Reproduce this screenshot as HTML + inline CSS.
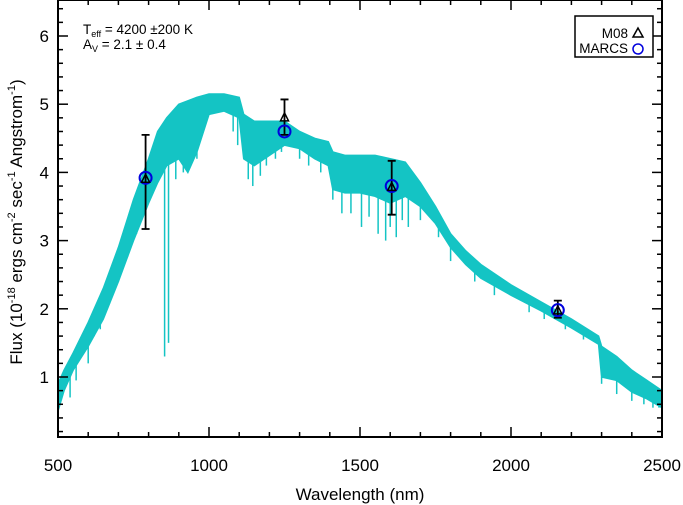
<!DOCTYPE html>
<html><head><meta charset="utf-8">
<style>
html,body{margin:0;padding:0;background:#fff;}
svg{display:block;font-family:"Liberation Sans",Arial,sans-serif;}
</style></head>
<body>
<svg id="chart" width="683" height="505" viewBox="0 0 683 505" xmlns="http://www.w3.org/2000/svg">
  <g id="spec"></g>
  <g id="axes"></g>
  <g id="pts"></g>
  <text x="83" y="34" font-size="13.5">T<tspan font-size="9" dy="3">eff</tspan><tspan dy="-3"> = 4200 ±200 K</tspan></text>
  <text x="83" y="49" font-size="13.5">A<tspan font-size="9" dy="3">V</tspan><tspan dy="-3"> = 2.1 ± 0.4</tspan></text>
  <g>
    <rect x="575" y="16" width="78" height="41" fill="#fff" stroke="#000" stroke-width="1.5"/>
    <text x="628" y="38" font-size="13.5" text-anchor="end">M08</text>
    <polygon points="638,28 633,37 643,37" fill="none" stroke="#000" stroke-width="1.5"/>
    <text x="628" y="53" font-size="13.5" text-anchor="end">MARCS</text>
    <circle cx="638" cy="49" r="5" fill="none" stroke="#0000dd" stroke-width="1.5"/>
  </g>
  <text x="360" y="500" font-size="17" text-anchor="middle">Wavelength (nm)</text>
  <text transform="translate(22,222) rotate(-90)" font-size="17" text-anchor="middle">Flux (10<tspan font-size="11" dy="-7">-18</tspan><tspan dy="7"> ergs cm</tspan><tspan font-size="11" dy="-7">-2</tspan><tspan dy="7"> sec</tspan><tspan font-size="11" dy="-7">-1</tspan><tspan dy="7"> Angstrom</tspan><tspan font-size="11" dy="-7">-1</tspan><tspan dy="7">)</tspan></text>
</svg>
<script>
const specWave  = [500,520,550,600,650,700,750,800,830,860,900,930,960,1000,1050,1100,1115,1150,1200,1250,1300,1350,1395,1410,1450,1500,1550,1600,1650,1700,1750,1800,1850,1900,2000,2100,2200,2290,2300,2350,2400,2450,2500];
const specUpper = [0.9,1.1,1.35,1.8,2.3,2.9,3.6,4.2,4.6,4.8,5.0,5.05,5.1,5.15,5.15,5.1,4.85,4.75,4.75,4.75,4.6,4.5,4.45,4.3,4.25,4.25,4.25,4.2,4.15,3.85,3.5,3.1,2.85,2.65,2.35,2.1,1.85,1.6,1.45,1.3,1.1,0.95,0.8];
const specLower = [0.5,0.8,1.1,1.45,1.85,2.4,3.0,3.55,3.85,4.1,4.2,4.0,4.3,4.85,4.9,4.8,4.2,4.1,4.25,4.4,4.35,4.2,4.1,3.75,3.7,3.7,3.65,3.55,3.65,3.5,3.25,2.9,2.65,2.45,2.2,1.97,1.72,1.48,1.0,0.95,0.78,0.68,0.55];
const spikeWave = [540,560,600,620,640,670,700,730,760,853,866,890,915,940,960,1080,1095,1130,1145,1170,1190,1220,1240,1300,1330,1370,1410,1440,1470,1505,1530,1560,1585,1600,1620,1640,1660,1700,1760,1800,1880,1945,1990,2060,2110,2180,2240,2300,2320,2350,2380,2400,2420,2440,2470,2490];
const spikeFlux = [0.7,0.95,1.2,1.6,1.7,2.2,2.7,2.9,3.1,1.3,1.5,3.9,4.0,4.1,4.2,4.6,4.4,3.9,3.8,3.95,4.1,4.2,4.3,4.2,4.1,4.0,3.6,3.4,3.4,3.2,3.35,3.1,3.0,3.2,3.05,3.3,3.2,3.3,3.05,2.7,2.4,2.2,2.25,1.95,1.85,1.7,1.55,0.9,1.1,0.75,0.9,0.65,0.8,0.6,0.55,0.55];
const obsWave   = [790,1250,1605,2155];
const m08Flux   = [3.9,4.8,3.78,1.97];
const marcsFlux = [3.92,4.6,3.8,1.98];
const errLow    = [3.17,4.55,3.38,1.87];
const errHigh   = [4.55,5.07,4.17,2.12];
const xTicks    = [500,1000,1500,2000,2500];
const yTicks    = [1,2,3,4,5,6];

const X0=58,X1=662,Y0=437,Y1=0;
const xs = w => X0 + (w-500)/2000*(X1-X0);
const ys = v => 377 - (v-1)*68.2;
const NS="http://www.w3.org/2000/svg";
function mk(tag,parent,attrs){const e=document.createElementNS(NS,tag);for(const k in attrs)e.setAttribute(k,attrs[k]);parent.appendChild(e);return e;}

const spec=document.getElementById('spec');
let pts=specWave.map((w,i)=>xs(w)+','+ys(specUpper[i]));
for(let i=specWave.length-1;i>=0;i--)pts.push(xs(specWave[i])+','+ys(specLower[i]));
const band=mk('polygon',spec,{points:pts.join(' '),fill:'#14c4c4',stroke:'#14c4c4','stroke-width':1.5});


function interp(arr,w){for(let i=0;i<specWave.length-1;i++){if(w>=specWave[i]&&w<=specWave[i+1]){const t=(w-specWave[i])/(specWave[i+1]-specWave[i]);return arr[i]+t*(arr[i+1]-arr[i]);}}return arr[arr.length-1];}
spikeWave.forEach((w,i)=>{
  const l=mk('line',spec,{x1:xs(w),x2:xs(w),y1:ys(interp(specLower,w)),y2:ys(spikeFlux[i]),stroke:'#14c4c4','stroke-width':1.5});
  
  
});

const ax=document.getElementById('axes');
mk('rect',ax,{x:X0,y:Y1,width:X1-X0,height:Y0-Y1,fill:'none',stroke:'#000','stroke-width':2});
for(let w=500;w<=2500;w+=100){
  const big=w%500===0,L=big?10:5,x=xs(w);
  mk('line',ax,{x1:x,x2:x,y1:Y0,y2:Y0-L,stroke:'#000','stroke-width':1.5});
  mk('line',ax,{x1:x,x2:x,y1:Y1,y2:Y1+L,stroke:'#000','stroke-width':1.5});
}
for(let k=1;k<=33;k++){
  const v=k*0.2;const y=ys(v);if(y<Y1||y>Y0)continue;
  const big=Math.abs(v-Math.round(v))<1e-6,L=big?10:5;
  mk('line',ax,{x1:X0,x2:X0+L,y1:y,y2:y,stroke:'#000','stroke-width':1.5});
  mk('line',ax,{x1:X1,x2:X1-L,y1:y,y2:y,stroke:'#000','stroke-width':1.5});
}
xTicks.forEach(w=>{
  const t=mk('text',ax,{x:xs(w),y:471,'font-size':17,'text-anchor':'middle'});t.textContent=w;
  
  
});
yTicks.forEach(v=>{
  const t=mk('text',ax,{x:49,y:ys(v)+6,'font-size':17,'text-anchor':'end'});t.textContent=v;
  
  
});

const pg=document.getElementById('pts');
obsWave.forEach((w,i)=>{
  const x=xs(w);
  const e=mk('path',pg,{d:`M${x},${ys(errLow[i])}V${ys(errHigh[i])}M${x-4},${ys(errLow[i])}H${x+4}M${x-4},${ys(errHigh[i])}H${x+4}`,stroke:'#000','stroke-width':1.8,fill:'none'});
  
  
  const c=mk('circle',pg,{cx:x,cy:ys(marcsFlux[i]),r:6,fill:'none',stroke:'#0000dd','stroke-width':2});
  
  
  const y=ys(m08Flux[i]);
  const t=mk('polygon',pg,{points:`${x},${y-5} ${x-4},${y+3} ${x+4},${y+3}`,fill:'none',stroke:'#000','stroke-width':1.5});
  
  
});
</script>
</body></html>
